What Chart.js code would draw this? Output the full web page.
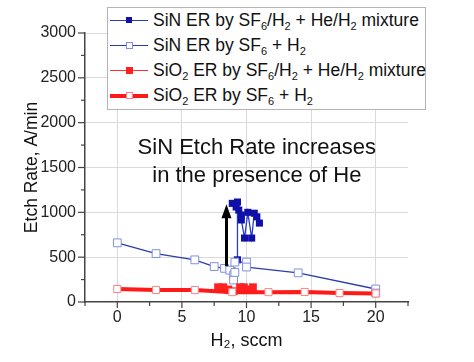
<!DOCTYPE html>
<html><head><meta charset="utf-8">
<script src="https://cdn.jsdelivr.net/npm/chart.js@4.4.1/dist/chart.umd.min.js"></script>
<style>
body{margin:0;background:#fff;}
#wrap{position:relative;width:474px;height:362px;}
#legend{position:absolute;left:107px;top:7px;width:317px;height:101px;border:1px solid #b4b4b4;background:#fff;font-family:'Liberation Sans',Arial,sans-serif;font-size:17.5px;color:#111;}
.row{position:absolute;left:0;height:25px;line-height:25px;white-space:nowrap;}
.smp{position:absolute;left:2px;top:12px;width:38px;}
.ln{position:absolute;left:0;width:38px;}
.mk{position:absolute;left:15px;box-sizing:border-box;}
.txt{position:absolute;left:45px;top:0;}
.s{font-size:11px;position:relative;top:4px;}
</style></head>
<body><div id="wrap">
<canvas id="c" width="474" height="362"></canvas>
<div id="legend">
 <div class="row" style="top:0px"><div class="smp"><div class="ln" style="top:0;border-top:1.5px solid #2a3cb0"></div><div class="mk" style="top:-3px;left:16px;width:6px;height:6px;background:#1010a8"></div></div><div class="txt">SiN ER by SF<span class="s">6</span>/H<span class="s">2</span> + He/H<span class="s">2</span> mixture</div></div>
 <div class="row" style="top:25px"><div class="smp"><div class="ln" style="top:0;border-top:1.5px solid #2a3cb0"></div><div class="mk" style="top:-3px;left:16px;width:7px;height:7px;background:#fff;border:1px solid #7f8fe0"></div></div><div class="txt">SiN ER by SF<span class="s">6</span> + H<span class="s">2</span></div></div>
 <div class="row" style="top:50px"><div class="smp"><div class="ln" style="top:0;border-top:1.5px solid #ff3030"></div><div class="mk" style="top:-3px;left:16px;width:7px;height:7px;background:#ff2020"></div></div><div class="txt">SiO<span class="s">2</span> ER by SF<span class="s">6</span>/H<span class="s">2</span> + He/H<span class="s">2</span> mixture</div></div>
 <div class="row" style="top:75px"><div class="smp"><div class="ln" style="top:-1px;border-top:4px solid #ff1a1a"></div><div class="mk" style="top:-3px;left:16px;width:7px;height:7px;background:#fff;border:1px solid #ff8080"></div></div><div class="txt">SiO<span class="s">2</span> ER by SF<span class="s">6</span> + H<span class="s">2</span></div></div>
</div>
</div>
<script>
// ---- data ----
const xTickLabels = [0, 5, 10, 15, 20];
const yTickLabels = [0, 500, 1000, 1500, 2000, 2500, 3000];

const sinMixX = [9.3, 9.3, 8.9, 9.2, 9.4, 9.6, 9.6, 9.85, 10.1, 10.4, 10.6, 10.8, 11.0];
const sinMixY = [470, 1115, 1100, 1060, 1025, 970, 915, 713, 1000, 713, 990, 950, 880];

const sinH2X = [0, 3, 6, 7.5, 8.3, 8.7, 9.0, 9.0, 9.1, 9.1, 10.0, 10.0, 14, 20, 20];
const sinH2Y = [660, 540, 470, 395, 375, 355, 300, 245, 330, 445, 445, 390, 325, 145, 100];

const sio2MixX = [7.8, 8.2, 8.6, 9.0, 9.5, 9.8, 10.1, 10.5];
const sio2MixY = [165, 165, 140, 120, 165, 165, 140, 165];

const sio2H2X = [0, 3, 6, 8.9, 11.7, 14.5, 17.2, 20];
const sio2H2Y = [145, 135, 133, 110, 110, 112, 100, 95];

const arrowX = 8.45;
const arrowY = [400, 1090];
const noteLines = ['SiN Etch Rate increases', 'in the presence of He'];
const noteX = 10.8;
const noteY = [1720, 1410];

const pts = (xs, ys) => xs.map((x, i) => ({x, y: ys[i]}));

const extras = {
  id: 'extras',
  afterDraw(chart) {
    const ctx = chart.ctx, xs = chart.scales.x, ys = chart.scales.y;
    ctx.save();
    ctx.strokeStyle = '#444'; ctx.lineWidth = 1.2;
    xs.ticks.forEach((t, i) => {
      const p = xs.getPixelForTick(i);
      const major = Math.abs(t.value % 5) < 1e-6;
      ctx.beginPath(); ctx.moveTo(p, ys.bottom); ctx.lineTo(p, ys.bottom + (major ? 6 : 4)); ctx.stroke();
    });
    ys.ticks.forEach((t, i) => {
      const p = ys.getPixelForTick(i);
      const major = Math.abs(t.value % 500) < 1e-6;
      ctx.beginPath(); ctx.moveTo(xs.left, p); ctx.lineTo(xs.left - (major ? 7 : 4), p); ctx.stroke();
    });
    const ax = xs.getPixelForValue(arrowX);
    const y0 = ys.getPixelForValue(arrowY[0]), y1 = ys.getPixelForValue(arrowY[1]);
    ctx.strokeStyle = '#000'; ctx.fillStyle = '#000'; ctx.lineWidth = 3;
    ctx.beginPath(); ctx.moveTo(ax, y0); ctx.lineTo(ax, y1 + 12); ctx.stroke();
    ctx.beginPath(); ctx.moveTo(ax, y1); ctx.lineTo(ax - 5, y1 + 14); ctx.lineTo(ax + 5, y1 + 14); ctx.closePath(); ctx.fill();
    ctx.font = '22px "Liberation Sans", Arial, sans-serif';
    ctx.textAlign = 'center'; ctx.textBaseline = 'middle'; ctx.fillStyle = '#111';
    noteLines.forEach((s, i) => ctx.fillText(s, xs.getPixelForValue(noteX), ys.getPixelForValue(noteY[i])));
    ctx.restore();
  }
};

const font = {family: '"Liberation Sans", Arial, sans-serif', size: 16};
new Chart(document.getElementById('c'), {
  type: 'scatter',
  data: {
    datasets: [
      {data: pts(sio2H2X, sio2H2Y), showLine: true, borderColor: '#ff1a1a', borderWidth: 4,
       pointStyle: 'rect', pointRadius: 5, pointBackgroundColor: '#fff', pointBorderColor: '#ff8080', pointBorderWidth: 1},
      {data: pts(sio2MixX, sio2MixY), showLine: true, borderColor: '#ff3030', borderWidth: 1.5,
       pointStyle: 'rect', pointRadius: 5.5, pointBackgroundColor: '#ff2020', pointBorderColor: '#ff2020', pointBorderWidth: 0},
      {data: pts(sinH2X, sinH2Y), showLine: true, borderColor: '#2a3cb0', borderWidth: 1.3,
       segment: {borderDash: c => Math.abs(c.p0.parsed.x - c.p1.parsed.x) < 0.35 ? [2, 2] : undefined},
       pointStyle: 'rect', pointRadius: 5.5, pointBackgroundColor: '#fff', pointBorderColor: '#8090e0', pointBorderWidth: 1},
      {data: pts(sinMixX, sinMixY), showLine: true, borderColor: '#2a3cd0', borderWidth: 1.3,
       pointStyle: 'rect', pointRadius: 5, pointBackgroundColor: '#1010a8', pointBorderColor: '#1010a8', pointBorderWidth: 0}
    ]
  },
  options: {
    responsive: false, animation: false,
    layout: {padding: {left: 0, right: 66, top: 33, bottom: 0}},
    plugins: {legend: {display: false}, tooltip: {enabled: false}},
    scales: {
      x: {
        type: 'linear', min: -2.5, max: 22.5,
        afterFit: s => { s.height = 60; },
        ticks: {stepSize: 2.5, autoSkip: false, maxRotation: 0, padding: 6, color: '#222', font,
                callback: v => xTickLabels.includes(v) ? String(v) : ''},
        grid: {drawTicks: false, color: c => (c.tick && xTickLabels.includes(c.tick.value)) ? '#dadada' : 'transparent', lineWidth: 1},
        border: {color: '#444', width: 1.5},
        title: {display: true, text: 'H\u2082, sccm', color: '#111', font: {family: font.family, size: 18}, padding: {top: 0, bottom: 10}}
      },
      y: {
        min: 0, max: 3000,
        afterFit: s => { s.width = 85; },
        ticks: {stepSize: 250, autoSkip: false, padding: 9, color: '#222', font,
                callback: v => yTickLabels.includes(v) ? String(v) : ''},
        grid: {drawTicks: false, color: c => (c.tick && c.tick.value > 0 && yTickLabels.includes(c.tick.value)) ? '#dadada' : 'transparent', lineWidth: 1},
        border: {color: '#444', width: 1.5},
        title: {display: true, text: 'Etch Rate, A/min', color: '#111', font: {family: font.family, size: 17.5}, padding: {top: 22, bottom: 0}}
      }
    }
  },
  plugins: [extras]
});
</script>
</body></html>
